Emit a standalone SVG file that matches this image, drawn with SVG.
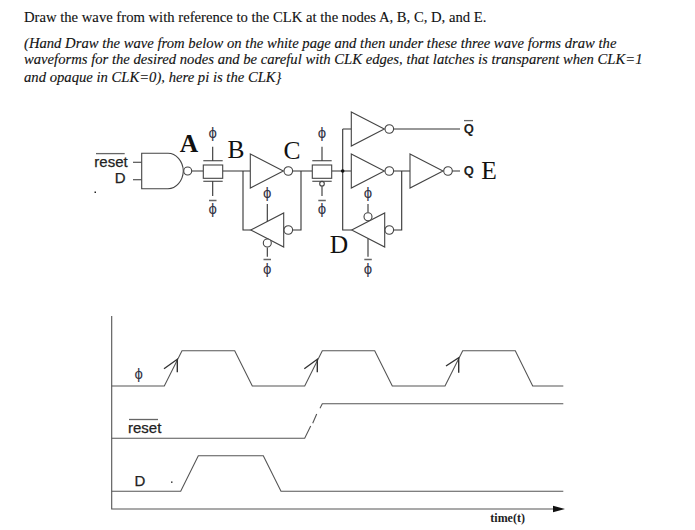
<svg xmlns="http://www.w3.org/2000/svg" width="695" height="530" viewBox="0 0 695 530">
<style>
.bg{fill:#fff}
.h{font-family:"Liberation Serif",serif;font-size:14.67px;fill:#111;stroke:#111;stroke-width:.12px}
.i{font-style:italic}
.n{font-family:"Liberation Serif",serif;font-size:25.5px;fill:#111}
.s{font-family:"Liberation Sans",sans-serif;font-size:15px;fill:#222;stroke:#222;stroke-width:.25px}
.q{font-family:"Liberation Sans",sans-serif;font-size:13px;font-weight:bold;fill:#222;text-anchor:middle}
.p{font-family:"Liberation Sans",sans-serif;font-size:15px;fill:#334;text-anchor:middle}
.w{fill:none;stroke:#555;stroke-width:1.1}
.k{fill:none;stroke:#333;stroke-width:1.1}
.g{fill:#fff;stroke:#444;stroke-width:1.1}
.t{fill:none;stroke:#666;stroke-width:1.3}
.a{fill:none;stroke:#333;stroke-width:1.4}
</style>
<defs>
<g id="inv"><path class="g" d="M0-17L33 0L0 17Z"/><circle class="g" cx="38" cy="0" r="4.3"/></g>
<g id="invl"><path class="g" d="M0 0L33-17V17Z"/><circle class="g" cx="37.6" cy="0" r="4.3"/></g>
<g id="tg"><rect class="g" x="0" y="-6" width="19.4" height="13.3"/><path class="k" d="M0-10.300H19.400M0 10.300H19.400"/></g>
</defs>
<rect class="bg" width="695" height="530"/>
<g id="header">
<text class="h" x="24" y="22.300">Draw the wave from with reference to the CLK at the nodes A, B, C, D, and E.</text>
<text class="h i" x="24" y="47.700">(Hand Draw the wave from below on the white page and then under these three wave forms draw the</text>
<text class="h i" x="24" y="64.300">waveforms for the desired nodes and be careful with CLK edges, that latches is transparent when CLK=1</text>
<text class="h i" x="24" y="81.700">and opaque in CLK=0), here pi is the CLK}</text>
</g>
<g id="connectors">
<path class="k" d="M133 162.300H141.700M133 179.700H141.700M192 171H203.300M222.700 171H250.300M243 171V230H250.700M292.600 171H312.300M301 171V230H292.600M331.700 171H351.300M342.700 129H351.300M342.700 129V230H351.700M393.300 171H410M401.700 171V230H393.300M393.300 129H460M452 171H460"/>
<path class="k" d="M212.700 146.700V160.700M212.700 181.300V196M322 146.700V160.700M322 186V196M267.300 204V222M267.300 247.500V256.700M368 204V212.500M368 238.400V256.700"/>
<circle cx="342.700" cy="171" r="1.800" fill="#111"/>
</g>
<g id="nand"><path class="g" d="M141.700 153.300H168C176 153.300 183 161 183.300 171C183 181 176 188.700 168 188.700H141.700Z"/><circle class="g" cx="187.700" cy="171" r="4"/></g>
<g id="tg1"><use href="#tg" x="203.300" y="171"/></g>
<g id="tg2"><use href="#tg" x="312.300" y="171"/><circle class="g" cx="322" cy="183.700" r="2.300"/></g>
<g id="inv1"><use href="#inv" x="250.300" y="171"/></g>
<g id="inv2"><use href="#invl" x="250.700" y="230"/><circle class="g" cx="267.300" cy="243" r="4"/></g>
<g id="inv3"><use href="#inv" x="351.300" y="129"/></g>
<g id="inv4"><use href="#inv" x="351.300" y="171"/></g>
<g id="inv5"><use href="#invl" x="351.700" y="230"/><circle class="g" cx="368" cy="216.700" r="4"/></g>
<g id="inv6"><use href="#inv" x="410" y="171"/></g>
<g id="labels">
<text class="s" x="127.700" y="166.700" text-anchor="end">reset</text>
<path class="t" d="M96 153.600H124.700"/>
<text class="s" x="125.500" y="183.300" text-anchor="end">D</text>
<rect x="94.500" y="191.500" width="1.500" height="1.500" fill="#222"/>
<text class="n" x="189" y="151.700" text-anchor="middle" font-weight="bold">A</text>
<text class="n" x="236" y="158" text-anchor="middle">B</text>
<text class="n" x="292" y="159" text-anchor="middle">C</text>
<text class="n" x="339" y="252.700" text-anchor="middle">D</text>
<text class="n" x="489" y="179" text-anchor="middle">E</text>
<text class="q" x="468.700" y="133">Q</text>
<path class="t" d="M464 120.600H473"/>
<text class="q" x="468.700" y="175.300">Q</text>
<g class="phis">
<text class="p" x="212.700" y="138">ϕ</text>
<text class="p" x="212.700" y="214">ϕ</text>
<text class="p" x="322" y="138">ϕ</text>
<text class="p" x="322" y="214">ϕ</text>
<text class="p" x="267.300" y="197.700">ϕ</text>
<text class="p" x="267.300" y="273.700">ϕ</text>
<text class="p" x="368" y="197.700">ϕ</text>
<text class="p" x="368" y="273.700">ϕ</text>
</g>
<path class="t" d="M209 200.500H216.500M318.300 200.500H325.800M263.500 259.500H271M364.300 259.500H371.800"/>
</g>
<g id="waveforms">
<path class="w" d="M111.700 316V509H553"/>
<path d="M565 509L553 505.800V512.200Z" fill="#111"/>
<path class="w" d="M111.700 386H164.300L182 350.700H234.700L252.300 386H304.700L322.300 350.700H374.700L392.300 386H445L462.700 350.700H515.300L532.700 386H563.300"/>
<path class="w" d="M111.700 438.300H304.700L310.700 426M312.700 423.300L316.700 414M320 408.300L322.300 403.700H563.300"/>
<path class="w" d="M111.700 491.300H180.700L198.300 455.700H263.300L281 491.300H563.300"/>
<path class="a" d="M164 368.700L177.300 359.300V372.300M304.300 368.700L317.300 359.300V372.300M446 366L458.700 357.700V372.700"/>
<text class="p" x="138.700" y="379">ϕ</text>
<text class="s" x="128" y="432.700">reset</text>
<path class="t" d="M129 419.500H158"/>
<text class="s" x="140" y="485.700" text-anchor="middle">D</text>
<rect x="171" y="481.500" width="1.500" height="1.300" fill="#222"/>
<text x="490.300" y="522" font-family="Liberation Serif, serif" font-weight="bold" font-size="12" fill="#222">time(t)</text>
</g>
</svg>
